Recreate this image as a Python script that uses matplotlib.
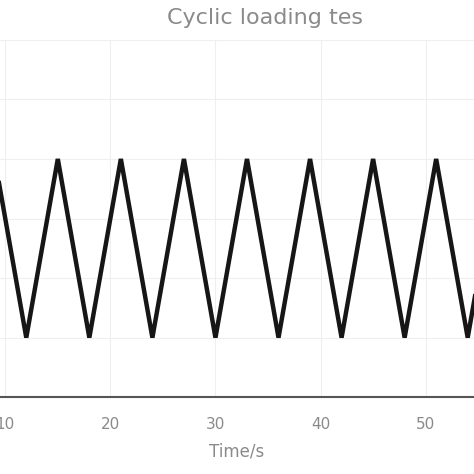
import matplotlib
matplotlib.use("Agg")
import matplotlib.pyplot as plt

# triangular cyclic load, peaks and troughs
time_s = [9, 12, 15, 18, 21, 24, 27, 30, 33, 36, 39, 42, 45, 48, 51, 54, 57]
load = [4, 1, 4, 1, 4, 1, 4, 1, 4, 1, 4, 1, 4, 1, 4, 1, 4]
x_ticks = [10, 20, 30, 40, 50]

fig = plt.figure(figsize=(4.74, 4.74), dpi=100)
ax = fig.add_axes([0, 0.162, 1, 0.754])
ax.plot(time_s, load, color="#161616", lw=3.2, solid_joinstyle="miter")
ax.set_xlim(9.5, 54.6)
ax.set_ylim(0, 6)
ax.set_xticks(x_ticks)
ax.set_yticks([1, 2, 3, 4, 5, 6])
ax.grid(True, color="#efefef", lw=0.8)
ax.set_axisbelow(True)
ax.tick_params(length=0, labelsize=11, labelcolor="#8a8a8a", pad=14)
ax.set_yticklabels([])
for s in ["top", "left", "right"]:
    ax.spines[s].set_visible(False)
ax.spines["bottom"].set_color("#555555")
ax.spines["bottom"].set_linewidth(1.5)
ax.set_xlabel("Time/s", fontsize=12, color="#8a8a8a", labelpad=8)
fig.text(0.56, 0.962, "Cyclic loading tes", fontsize=16, color="#8a8a8a",
         ha="center", va="center")
fig.savefig("out.png", dpi=100)
